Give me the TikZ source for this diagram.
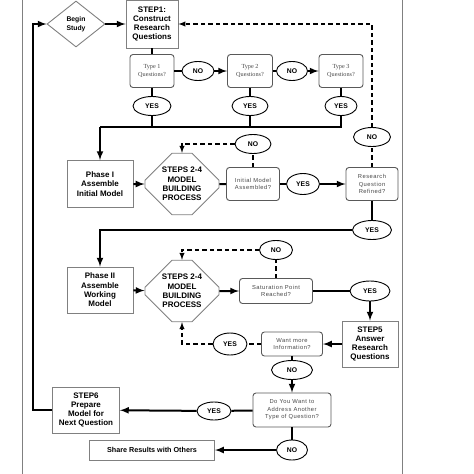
\documentclass[tikz,border=0pt]{standalone}
\usepackage{fontspec}
\setmainfont{Liberation Sans}
\newfontfamily\qserif{Liberation Serif}
\usetikzlibrary{shapes.geometric,shapes.misc}

\begin{document}
\begin{tikzpicture}[x=1pt,y=-1pt,
  stepbox/.style={draw=gray,line width=0.9pt,fill=white,align=center,inner sep=1pt,
    font=\bfseries\fontsize{8}{9.3}\selectfont},
  askbox/.style={draw=gray!70!black,line width=0.9pt,rounded corners=3pt,align=center,inner sep=1pt,
    text=gray!55!black,font=\fontsize{5.8}{7.4}\selectfont\addfontfeature{LetterSpace=8}},
  typebox/.style={askbox,font=\qserif\fontsize{6.2}{8.5}\selectfont},
  oval/.style={ellipse,draw,line width=0.9pt,inner sep=0pt,minimum height=19,
    font=\bfseries\fontsize{6.8}{7}\selectfont},
  octa/.style={chamfered rectangle,chamfered rectangle xsep=13pt,chamfered rectangle ysep=14pt,
    draw=gray,line width=0.9pt,align=center,inner sep=0pt,minimum width=74,minimum height=60,
    font=\bfseries\fontsize{8}{9.3}\selectfont},
  flow/.style={line width=2pt},
  back/.style={line width=1.4pt,dash pattern=on 4.5pt off 3pt},
]
\useasboundingbox (0,0) rectangle (474,474);
% frame
\draw[gray,line width=0.9pt] (22,0) -- (22,474);
\draw[gray,line width=0.9pt] (402,0) -- (402,474);

% start and question types
\node[diamond,draw=gray,line width=0.9pt,inner sep=0pt,minimum width=58,minimum height=46,
  align=center,font=\bfseries\fontsize{6.8}{8.5}\selectfont] (begin) at (76,24) {Begin\\Study};
\node[stepbox,minimum width=52,minimum height=48] (step1) at (152,24) {STEP1:\\Construct\\Research\\Questions};
\node[typebox,minimum width=44,minimum height=33] (type1) at (152,71) {Type 1\\Questions?};
\node[typebox,minimum width=45,minimum height=33] (type2) at (250,71) {Type 2\\Questions?};
\node[typebox,minimum width=44,minimum height=33] (type3) at (341,71) {Type 3\\Questions?};
\node[oval,minimum width=32] (no1) at (198,71) {NO};
\node[oval,minimum width=31] (no2) at (292,71) {NO};
\node[oval,minimum width=38] (yes1) at (152,106) {YES};
\node[oval,minimum width=36] (yes2) at (250,106) {YES};
\node[oval,minimum width=32] (yes3) at (341,106) {YES};
\coordinate (bus1) at (100,127);

% phase I
\node[stepbox,minimum width=66,minimum height=47] (phase1) at (100,184) {Phase I\\Assemble\\Initial Model};
\node[octa] (oct1) at (182,184) {STEPS 2-4\\MODEL\\BUILDING\\PROCESS};
\node[askbox,minimum width=53,minimum height=33] (initm) at (253,184) {Initial Model\\Assembled?};
\node[oval,minimum width=33,minimum height=21] (yesI) at (303,184) {YES};
\node[askbox,minimum width=52,minimum height=33] (refined) at (372,184) {Research\\Question\\Refined?};
\node[oval,minimum width=36] (noI) at (253,144) {NO};
\node[oval,minimum width=37] (noR) at (372,137) {NO};
\node[oval,minimum width=39] (yesR) at (372,230) {YES};

% phase II
\node[stepbox,minimum width=66,minimum height=46] (phase2) at (100,290) {Phase II\\Assemble\\Working\\Model};
\node[octa] (oct2) at (182,291) {STEPS 2-4\\MODEL\\BUILDING\\PROCESS};
\node[askbox,minimum width=73,minimum height=25] (satur) at (276,291) {Saturation Point\\Reached?};
\node[oval,minimum width=33] (noS) at (276,250) {NO};
\node[oval,minimum width=40,minimum height=20] (yesS) at (370,291) {YES};
\node[stepbox,minimum width=56,minimum height=46] (step5) at (370,344) {STEP5\\Answer\\Research\\Questions};
\node[askbox,minimum width=61,minimum height=24] (want) at (292,344) {Want more\\Information?};
\node[oval,minimum width=34,minimum height=22] (yesW) at (230,344) {YES};
\node[oval,minimum width=41] (noW) at (292,370) {NO};
\node[askbox,minimum width=78,minimum height=34] (another) at (292,410) {Do You Want to\\Address Another\\Type of Question?};
\node[oval,minimum width=34,minimum height=18] (yesA) at (214,411) {YES};
\node[stepbox,minimum width=67,minimum height=46] (step6) at (86,410) {STEP6\\Prepare\\Model for\\Next Question};
\node[oval,minimum width=31,minimum height=20] (noA) at (292,450) {NO};
\node[stepbox,minimum width=125,minimum height=20,font=\bfseries\fontsize{7.2}{8}\selectfont] (share) at (152,450) {Share Results with Others};
\coordinate (leftrail) at (33,24);

% main flow
\draw[flow,-latex] (step6.west) -| (leftrail) -- (begin.west);
\draw[flow,-latex] (begin) -- (step1);
\draw[flow] (step1) -- (type1);
\draw[flow] (type1) -- (no1);
\draw[flow,-latex] (no1) -- (type2);
\draw[flow] (type2) -- (no2);
\draw[flow,-latex] (no2) -- (type3);
\draw[flow] (type1) -- (yes1);
\draw[flow] (type2) -- (yes2);
\draw[flow] (type3) -- (yes3);
\draw[flow] (yes1.south) -- (yes1.south |- bus1);
\draw[flow] (yes2.south) -- (yes2.south |- bus1);
\draw[flow] (yes3.south) |- (bus1);
\draw[flow,-latex] (bus1) -- (phase1.north);
\draw[flow,-latex] (phase1) -- (oct1);
\draw[flow] (oct1) -- (initm);
\draw[flow] (initm) -- (yesI);
\draw[flow,-latex] (yesI) -- (refined);
\draw[flow] (refined) -- (yesR);
\draw[flow,-latex] (yesR.west) -| (phase2.north);
\draw[flow,-latex] (phase2) -- (oct2);
\draw[flow,-latex] (oct2) -- (satur);
\draw[flow] (satur) -- (yesS);
\draw[flow,-latex] (yesS) -- (step5);
\draw[flow,-latex] (step5) -- (want);
\draw[flow] (want) -- (noW);
\draw[flow,-latex] (noW) -- (another);
\draw[flow] (another) -- (yesA);
\draw[flow,-latex] (yesA) -- (step6);
\draw[flow] (another) -- (noA);
\draw[flow,-latex] (noA) -- (share);

% loops back
\draw[back] (refined) -- (noR);
\draw[back,-latex] (noR.north) |- (step1.east);
\draw[back] (initm) -- (noI);
\draw[back,-latex] (noI.west) -| (oct1.north);
\draw[back] (satur) -- (noS);
\draw[back,-latex] (noS.west) -| (oct2.north);
\draw[back] (want) -- (yesW);
\draw[back,-latex] (yesW.west) -| (oct2.south);
\end{tikzpicture}
\end{document}
